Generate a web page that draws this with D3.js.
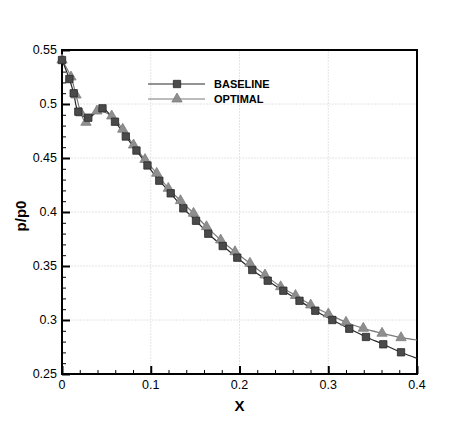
<!DOCTYPE html>
<meta charset="utf-8">
<style>
  html, body { margin: 0; padding: 0; background: #fff; }
  .grid line { stroke: #e4e4e4; stroke-width: 1px; stroke-dasharray: 2,1; }
</style>
<body>
</body>
<script src="https://cdn.jsdelivr.net/npm/d3@7"></script>
<script>

  // baseline curve (x, p/p0), last point is line only
  var baseX = [0, 0.0083, 0.0132, 0.0184, 0.0296, 0.0456, 0.0597, 0.0719, 0.0839, 0.0963, 0.1096,
               0.1225, 0.1367, 0.1510, 0.1648, 0.1811, 0.1975, 0.2144, 0.2318, 0.2494, 0.2676,
               0.2854, 0.3046, 0.3237, 0.3425, 0.3620, 0.3820, 0.4];
  var baseY = [0.5407, 0.5231, 0.5099, 0.4929, 0.4873, 0.4960, 0.4836, 0.4699, 0.4569, 0.4431, 0.4290,
               0.4173, 0.4034, 0.3919, 0.3799, 0.3685, 0.3577, 0.3463, 0.3364, 0.3271, 0.3178,
               0.3086, 0.3000, 0.2919, 0.2843, 0.2775, 0.2701, 0.2645];

  // optimal curve
  var optX = [0, 0.0101, 0.0158, 0.0214, 0.0270, 0.0394, 0.0560, 0.0684, 0.0806, 0.0935,
              0.1067, 0.1198, 0.1335, 0.1482, 0.1628, 0.1788, 0.1949, 0.2118, 0.2287, 0.2464,
              0.2631, 0.2802, 0.3001, 0.3200, 0.3395, 0.3606, 0.3820, 0.4];
  var optY = [0.5407, 0.5250, 0.5083, 0.4917, 0.4830, 0.4935, 0.4889, 0.4766, 0.4620, 0.4486,
              0.4358, 0.4219, 0.4105, 0.3988, 0.3864, 0.3741, 0.3632, 0.3525, 0.3417, 0.3308,
              0.3227, 0.3139, 0.3056, 0.2979, 0.2923, 0.2877, 0.2836, 0.2815];

  var xTicks = [0, 0.1, 0.2, 0.3, 0.4];
  var yTicks = [0.25, 0.3, 0.35, 0.4, 0.45, 0.5, 0.55];
  var seriesNames = ["BASELINE", "OPTIMAL"];

  var width = 474, height = 421;
  var margin = {left: 62, right: 57, top: 50, bottom: 47};
  var font = '"Liberation Sans", Arial, sans-serif';

  var svg = d3.select("body").append("svg")
      .attr("width", width)
      .attr("height", height);

  var x = d3.scaleLinear().domain([0, 0.4]).range([margin.left, width - margin.right]);
  var y = d3.scaleLinear().domain([0.25, 0.55]).range([height - margin.bottom, margin.top]);

  /* grid */
  var grid = svg.append("g").attr("class", "grid");
  grid.selectAll(".gx").data(xTicks.slice(1, -1)).enter().append("line")
      .attr("x1", d => x(d)).attr("x2", d => x(d))
      .attr("y1", y(0.25)).attr("y2", y(0.55));
  grid.selectAll(".gy").data(yTicks.slice(1, -1)).enter().append("line")
      .attr("y1", d => y(d)).attr("y2", d => y(d))
      .attr("x1", x(0)).attr("x2", x(0.4));

  /* axes - ticks inward */
  var xMinor = d3.range(0, 0.4001, 0.02);
  var yMinor = d3.range(0.25, 0.5501, 0.01);

  var gx = svg.append("g").attr("transform", "translate(0," + y(0.25) + ")");
  gx.call(d3.axisTop(x).tickValues(xMinor).tickSize(4).tickFormat(""));
  gx.call(g => g.select(".domain").remove());
  var gx2 = svg.append("g").attr("transform", "translate(0," + y(0.25) + ")");
  gx2.call(d3.axisTop(x).tickValues(xTicks).tickSize(8).tickFormat(""));
  gx2.call(g => g.select(".domain").remove());
  gx2.selectAll(".tick line").attr("stroke-width", 2);

  svg.append("g").selectAll("text").data(xTicks).enter().append("text")
      .attr("x", d => x(d)).attr("y", y(0.25) + 15)
      .attr("text-anchor", "middle")
      .style("font-family", font).style("font-size", "12.5px")
      .text(d => d3.format("")(d));

  var gy = svg.append("g").attr("transform", "translate(" + x(0) + ",0)");
  gy.call(d3.axisRight(y).tickValues(yMinor).tickSize(4).tickFormat(""));
  gy.call(g => g.select(".domain").remove());
  var gy2 = svg.append("g").attr("transform", "translate(" + x(0) + ",0)");
  gy2.call(d3.axisRight(y).tickValues(yTicks).tickSize(8).tickFormat(""));
  gy2.call(g => g.select(".domain").remove());
  gy2.selectAll(".tick line").attr("stroke-width", 2);

  svg.append("g").selectAll("text").data(yTicks).enter().append("text")
      .attr("x", x(0) - 5).attr("y", d => y(d) + 4)
      .attr("text-anchor", "end")
      .style("font-family", font).style("font-size", "12.5px")
      .text(d => d3.format("")(d));

  /* frame */
  svg.append("rect")
      .attr("x", x(0)).attr("y", y(0.55))
      .attr("width", x(0.4) - x(0)).attr("height", y(0.25) - y(0.55))
      .attr("fill", "none").attr("stroke", "#000").attr("stroke-width", 2);

  /* titles */
  svg.append("text")
      .attr("x", (x(0) + x(0.4)) / 2).attr("y", 411)
      .attr("text-anchor", "middle")
      .style("font-family", font).style("font-size", "15px").style("font-weight", "bold")
      .text("X");
  svg.append("text")
      .attr("transform", "translate(26,216) rotate(-90)")
      .attr("text-anchor", "middle")
      .style("font-family", font).style("font-size", "15px").style("font-weight", "bold")
      .text("p/p0");

  /* curves */
  var base = baseX.map((d, i) => ({x: d, y: baseY[i]}));
  var opt = optX.map((d, i) => ({x: d, y: optY[i]}));

  var line = d3.line().x(d => x(d.x)).y(d => y(d.y)).curve(d3.curveCatmullRom.alpha(0.5));

  svg.append("path").datum(opt)
      .attr("d", line).attr("fill", "none")
      .attr("stroke", "#7a7a7a").attr("stroke-width", 1.2);
  svg.append("path").datum(base)
      .attr("d", line).attr("fill", "none")
      .attr("stroke", "#2a2a2a").attr("stroke-width", 1.2);

  var square = d3.symbol().type(d3.symbolSquare).size(54);
  var triangle = d3.symbol().type(d3.symbolTriangle).size(46);

  svg.selectAll(".opt").data(opt.slice(0, -1)).enter().append("path")
      .attr("class", "opt")
      .attr("d", triangle)
      .attr("transform", d => "translate(" + x(d.x) + "," + y(d.y) + ")")
      .attr("fill", "#8e8e8e").attr("stroke", "#808080").attr("stroke-width", 0.8);
  svg.selectAll(".base").data(base.slice(0, -1)).enter().append("path")
      .attr("class", "base")
      .attr("d", square)
      .attr("transform", d => "translate(" + x(d.x) + "," + y(d.y) + ")")
      .attr("fill", "#4a4a4a").attr("stroke", "#2a2a2a").attr("stroke-width", 0.8);

  /* legend */
  var leg = svg.append("g").attr("transform", "translate(148,84)");
  var legColors = [["#2a2a2a", "#4a4a4a"], ["#7a7a7a", "#8e8e8e"]];
  seriesNames.forEach(function(name, i) {
      var g = leg.append("g").attr("transform", "translate(0," + i * 15 + ")");
      g.append("line").attr("x1", 0).attr("x2", 57)
          .attr("stroke", legColors[i][0]).attr("stroke-width", 1.2);
      g.append("path").attr("d", i == 0 ? square : triangle)
          .attr("transform", "translate(29,0)")
          .attr("fill", legColors[i][1]).attr("stroke", legColors[i][0]).attr("stroke-width", 0.8);
      g.append("text").attr("x", 66).attr("y", 4)
          .style("font-family", font).style("font-size", "11px").style("font-weight", "bold")
          .text(name);
  });

</script>
